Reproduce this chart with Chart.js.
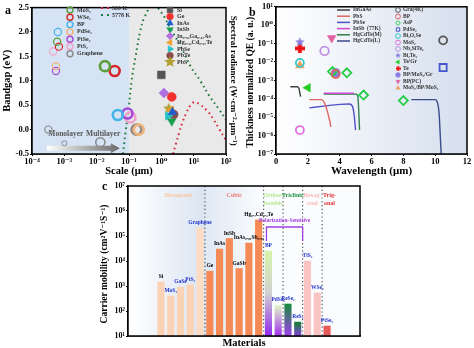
<!DOCTYPE html>
<html>
<head>
<meta charset="utf-8">
<script src="https://cdn.jsdelivr.net/npm/chart.js@4.4.1/dist/chart.umd.min.js"></script>
<style>
  body { margin: 0; background: #fff; width: 474px; height: 348px; overflow: hidden; position: relative; }
  canvas { position: absolute; }
</style>
</head>
<body>
<canvas id="chartA" width="240" height="178" style="left:0;top:0"></canvas>
<canvas id="chartB" width="234" height="178" style="left:240px;top:0"></canvas>
<canvas id="chartC" width="280" height="172" style="left:90px;top:176px"></canvas>
<script>
// ---------- PANEL A : bandgap vs scale ----------
const twoDNames = ['MoS₂', 'WSe₂', 'BP', 'PdSe₂', 'PtSe₂', 'PtS₂', 'Graphene'];
const monoScale = [6e-4, 6.8e-4, 6.3e-4, 5.5e-4, 5.5e-4, 4.5e-4, 3.2e-4];
const monoGap = [1.8, 1.7, 2.0, 1.3, 1.2, 1.6, 0.0];
const multiScale = [0.018, 0.036, 0.045, 0.2, 0.09, 0.11, 0.17];
const multiGap = [1.3, 1.2, 0.3, 0.0, 0.33, 0.25, 0.0];
const layerIconScale = [1e-3, 0.013];
const layerIconGap = [-0.28, -0.26];

const bulkNames = ['Si', 'Ge', 'InAs', 'InSb', 'In₀.₅₃Ga₀.₄₇As', 'Hg₀.₃₃Cd₀.₆₇Te', 'PbSe', 'PbTe', 'PbS'];
const bulkScale = [1.0, 2.1, 2.2, 2.1, 1.2, 2.0, 1.6, 2.4, 1.7];
const bulkGap = [1.12, 0.67, 0.36, 0.17, 0.75, 0.4, 0.28, 0.31, 0.43];

const sun300Scale = [2.3, 2.8, 3.5, 4.5, 6, 8, 10.5, 15, 25, 40, 63, 100];
const sun300Val = [-0.5, -0.3, -0.08, 0.15, 0.35, 0.5, 0.56, 0.52, 0.4, 0.22, 0.0, -0.22];
const sun5778Scale = [0.065, 0.08, 0.1, 0.12, 0.16, 0.22, 0.3, 0.55, 1, 2, 4, 8, 16, 30, 60, 100];
const sun5778Val = [-0.5, 0.0, 0.5, 1.0, 1.5, 2.0, 2.3, 2.55, 2.4, 2.05, 1.7, 1.3, 1.0, 0.7, 0.42, 0.2];

const scaleTicks = [1e-4, 1e-3, 1e-2, 1e-1, 1e0, 1e1, 1e2];

// ---------- PANEL B : QE vs wavelength ----------
const lineNames = ['InGaAs', 'PbS', 'PbSe', 'InSb  (77K)', 'HgCdTe(M)', 'HgCdTe(L)'];
const lineX = [
  [0.9, 1.35, 1.45, 1.5, 1.55],
  [2.1, 2.85, 3.05, 3.2, 3.35, 3.45],
  [2.1, 3.0, 4.0, 4.6, 4.8, 4.9, 5.0],
  [3.0, 4.9],
  [3.0, 5.05, 5.15, 5.2, 5.25],
  [8.5, 10.0, 10.15, 10.25, 10.32, 10.38]
];
const lineY = [
  [4.5e-4, 4.5e-4, 3.5e-4, 2e-4, 1.3e-4],
  [9e-5, 9e-5, 6e-5, 2.5e-5, 8e-6, 3e-6],
  [3.2e-5, 4e-5, 5e-5, 5.2e-5, 4e-5, 1.5e-5, 2e-6],
  [2e-4, 2e-4],
  [1.8e-4, 1.8e-4, 1.2e-4, 2e-5, 2e-6],
  [9e-5, 9e-5, 6e-5, 1.5e-5, 1e-6, 1e-7]
];

const qeNames = ['Gra(4K)', 'BP', 'AsP', 'PdSe₂', 'Bi₂O₂Se', 'MoS₂', 'Nb₂SiTe₄', 'Bi₂Te₃', 'Te/Gr', 'Te', 'BP/MoS₂/Gr', 'BP(PC)', 'MoS₂/BP/MoS₂'];
const qeX = [[10.5], [3.75], [3.55, 4.45, 5.5, 8.0], [10.5], [1.5], [1.5], [3.05], [1.5], [2.0], [1.5], [3.75], [3.5], [1.5]];
const qeY = [[0.15], [2.2e-3], [3e-3, 2.6e-3, 1.6e-4, 8e-5], [5e-3], [9e-3], [2e-6], [0.04], [0.12], [4e-4], [0.055], [2.6e-3], [0.2], [6.5e-3]];

const wlTicks = [0, 2, 4, 6, 8, 10, 12];
const qeTicks = [1e-7, 1e-6, 1e-5, 1e-4, 1e-3, 1e-2, 1e-1, 1e0, 1e1];

// ---------- PANEL C : carrier mobility ----------
const matNames = ['Si', 'MoS₂', 'GaSe', 'PtS₂', 'Graphene', 'Ge', 'InAs', 'InSb', 'GaSb', 'InAs₀.₉₁Sb₀.₀₉', 'Hg₀.₇Cd₀.₃Te', 'BP', 'PdSe₂', 'ReSe₂', 'ReS₂', 'TiS₂', 'WSe₂', 'PtSe₂'];
const mobility = [1450, 400, 900, 1100, 2.1e5, 3900, 3e4, 8e4, 5e3, 5.2e4, 4.4e5, 2.5e4, 170, 190, 36, 1e4, 530, 25];
const matGroup = [0, 0, 0, 0, 0, 1, 1, 1, 1, 1, 1, 2, 2, 3, 3, 4, 4, 5];
const groupNames = [['Hexagonal'], ['Cubic'], ['Orthor-', 'hombic'], ['Triclinic'], ['Hexag-', 'onal'], ['Trig-', 'onal']];
const mobTicks = [1e1, 1e2, 1e3, 1e4, 1e5, 1e6, 1e7];

// ---------- styles ----------
const FONT = '"Liberation Serif", "DejaVu Serif", serif';
Chart.defaults.font.family = FONT;
Chart.defaults.font.weight = 'bold';
Chart.defaults.color = '#000';

const twoDColors = ['#5a9e3a', '#d62828', '#43b4e8', '#f0b27a', '#a64ad6', '#f2a2cc', '#8a8a8a'];
const bulkColors = ['#555555', '#f2302e', '#1f5fd0', '#1aa050', '#b070e0', '#f0a030', '#20c4c8', '#8b4a4a', '#b0a030'];
const lineColors = ['#404040', '#e06666', '#5050c8', '#d048d0', '#2f7f4f', '#3a4a8a'];
const qeColors = ['#555555', '#e06060', '#22cc44', '#4455cc', '#30c8c8', '#e070e0', '#c090e0', '#8a7ee0', '#22cc22', '#ee1111', '#8a7ee0', '#e060a0', '#f0a060'];
const groupColors = ['#f8c7a0', '#f07878', '#b8e890', '#1a9040', '#f8bcbc', '#e03030'];
const matFill = [
  ['#fcd2b4'], ['#fcd2b4'], ['#fcd2b4'], ['#fcd2b4'], ['#fcdcc2'],
  ['#f58a55'], ['#f58a55'], ['#f58a55'], ['#f58a55'], ['#f58a55'], ['#f58a55'],
  ['#d6f5a8', '#d0d0d0', '#9028f0'], ['#e4f8c8', '#a030f0'],
  ['#178a3c', '#a040f0'], ['#17802f', '#8040e0'],
  ['#fbc4c4'], ['#fbc4c4'], ['#e85a5a']
];
const labelBlue = '#2233cc';
const matLabelColor = ['#000', labelBlue, labelBlue, labelBlue, labelBlue, '#000', '#000', '#000', '#000', '#000', '#000',
  labelBlue, labelBlue, labelBlue, labelBlue, labelBlue, labelBlue, labelBlue];

// filled star / plus markers
function starImage(color, r) {
  const c = document.createElement('canvas');
  c.width = c.height = 2 * r + 2;
  const g = c.getContext('2d');
  g.fillStyle = color;
  g.beginPath();
  for (let k = 0; k < 10; k++) {
    const rr = k % 2 ? r * 0.45 : r;
    const ang = -Math.PI / 2 + k * Math.PI / 5;
    g.lineTo(r + 1 + rr * Math.cos(ang), r + 1 + rr * Math.sin(ang));
  }
  g.closePath();
  g.fill();
  return c;
}
function plusImage(color, r) {
  const c = document.createElement('canvas');
  c.width = c.height = 2 * r;
  const g = c.getContext('2d');
  g.fillStyle = color;
  const w = r * 0.75;
  g.fillRect(r - w / 2, 0, w, 2 * r);
  g.fillRect(0, r - w / 2, 2 * r, w);
  return c;
}

const bulkStyle = [
  { style: 'rect', rot: 0, r: 5.5 },
  { style: 'circle', rot: 0, r: 4.5 },
  { style: 'triangle', rot: 0, r: 5 },
  { style: 'triangle', rot: 180, r: 5 },
  { style: 'rectRot', rot: 0, r: 5 },
  { style: 'triangle', rot: -90, r: 5 },
  { style: 'triangle', rot: 90, r: 5 },
  { style: 'circle', rot: 0, r: 4.5 },
  { style: starImage('#b0a030', 6), rot: 0, r: 6 }
];
const qeStyle = [
  { style: 'circle', r: 4, open: true },
  { style: 'circle', r: 4, open: true },
  { style: 'rectRot', r: 4.5, open: true },
  { style: 'rect', r: 5, open: true },
  { style: 'circle', r: 4, open: true },
  { style: 'circle', r: 4, open: true },
  { style: 'circle', r: 4.3, open: true },
  { style: starImage('#8a7ee0', 5), r: 5 },
  { style: 'triangle', r: 5, rot: -90 },
  { style: plusImage('#ee1111', 5), r: 5 },
  { style: 'circle', r: 4.5 },
  { style: 'triangle', r: 5, rot: 180 },
  { style: 'triangle', r: 5 }
];

// ---------- helpers ----------
const SUP = { '-': '⁻', '0': '⁰', '1': '¹', '2': '²', '3': '³', '4': '⁴', '5': '⁵', '6': '⁶', '7': '⁷', '8': '⁸', '9': '⁹' };
const pow10 = (v) => '10' + String(Math.round(Math.log10(v))).replace(/./g, (c) => SUP[c]);
const toTicks = (list) => list.map((v) => ({ value: v }));

function text(ctx, str, x, y, size, opts = {}) {
  ctx.save();
  ctx.font = `bold ${size}px ${FONT}`;
  ctx.fillStyle = opts.color || '#000';
  ctx.textAlign = opts.align || 'left';
  ctx.textBaseline = opts.base || 'middle';
  ctx.translate(x, y);
  if (opts.rot) ctx.rotate(opts.rot);
  ctx.fillText(str, 0, 0);
  ctx.restore();
}

function marker(ctx, style, x, y, color, open, bw) {
  ctx.save();
  ctx.strokeStyle = color;
  ctx.fillStyle = open ? 'rgba(0,0,0,0)' : color;
  ctx.lineWidth = bw || 1;
  Chart.helpers.drawPoint(ctx, { pointStyle: style.style, radius: style.r, rotation: style.rot || 0, borderWidth: bw || 1 }, x, y);
  ctx.restore();
}

const frame = {
  id: 'frame',
  afterDatasetsDraw(chart) {
    const { ctx, chartArea: a } = chart;
    ctx.save();
    ctx.strokeStyle = '#000';
    ctx.lineWidth = 1.5;
    ctx.strokeRect(a.left, a.top, a.right - a.left, a.bottom - a.top);
    ctx.restore();
  }
};

const tickFont = { size: 8.5, weight: 'bold' };
const axisGrid = { display: true, drawOnChartArea: false, drawTicks: true, tickLength: 2, color: '#000' };
const axisBorder = { display: true, color: '#000', width: 1.5 };

// ---------- PANEL A ----------
const datasetsA = [];
twoDNames.forEach((name, i) => {
  datasetsA.push({
    label: name,
    data: [{ x: monoScale[i], y: monoGap[i] }, { x: multiScale[i], y: multiGap[i] }],
    pointStyle: 'circle',
    pointRadius: [3.6, 5],
    pointBorderWidth: [1.2, 2.6],
    borderColor: twoDColors[i],
    backgroundColor: 'rgba(0,0,0,0)'
  });
});
datasetsA.push({
  label: 'layers',
  data: layerIconScale.map((x, i) => ({ x, y: layerIconGap[i] })),
  pointRadius: [2.5, 4.6],
  pointBorderWidth: [1, 1.6],
  borderColor: '#8a8a8a',
  backgroundColor: 'rgba(0,0,0,0)'
});
bulkNames.forEach((name, i) => {
  datasetsA.push({
    label: name,
    data: [{ x: bulkScale[i], y: bulkGap[i] }],
    pointStyle: bulkStyle[i].style,
    pointRotation: bulkStyle[i].rot,
    pointRadius: bulkStyle[i].r,
    pointBorderWidth: 0.5,
    backgroundColor: bulkColors[i],
    borderColor: bulkColors[i]
  });
});
datasetsA.push({
  label: '300 K',
  data: sun300Scale.map((x, i) => ({ x, y: sun300Val[i] })),
  showLine: true, pointRadius: 0, borderColor: '#d42a3c', borderWidth: 2,
  borderDash: [1.6, 3.4], tension: 0.4
});
datasetsA.push({
  label: '5778 K',
  data: sun5778Scale.map((x, i) => ({ x, y: sun5778Val[i] })),
  showLine: true, pointRadius: 0, borderColor: '#1f7a3a', borderWidth: 2,
  borderDash: [1.6, 3.4], tension: 0.4
});

const panelA = {
  id: 'panelA',
  beforeDatasetsDraw(chart) {
    const { ctx, chartArea: a, scales: { x, y } } = chart;
    const split = x.getPixelForValue(0.1);
    ctx.save();
    ctx.fillStyle = '#d6e3f4';
    ctx.fillRect(a.left, a.top, split - a.left, a.bottom - a.top);
    ctx.fillStyle = '#e9e9ea';
    ctx.fillRect(split, a.top, a.right - split, a.bottom - a.top);
    // monolayer -> multilayer arrow
    const x0 = x.getPixelForValue(2.9e-4), x1 = x.getPixelForValue(0.052), yy = y.getPixelForValue(-0.38);
    const g = ctx.createLinearGradient(x0, 0, x1, 0);
    g.addColorStop(0, '#ffffff');
    g.addColorStop(1, '#6a6a6a');
    ctx.fillStyle = g;
    ctx.beginPath();
    ctx.moveTo(x0, yy - 2.5);
    ctx.lineTo(x1 - 9, yy - 2.5);
    ctx.lineTo(x1 - 9, yy - 5);
    ctx.lineTo(x1, yy);
    ctx.lineTo(x1 - 9, yy + 5);
    ctx.lineTo(x1 - 9, yy + 2.5);
    ctx.lineTo(x0, yy + 2.5);
    ctx.closePath();
    ctx.fill();
    ctx.restore();
    text(ctx, 'Monolayer', x.getPixelForValue(3.2e-4), y.getPixelForValue(-0.1), 7.5, { color: '#555' });
    text(ctx, 'Multilayer', x.getPixelForValue(4.7e-3), y.getPixelForValue(-0.1), 7.5, { color: '#555' });
  },
  afterDraw(chart) {
    const { ctx, chartArea: a } = chart;
    // 2D legend
    twoDNames.forEach((n, i) => {
      const yy = 10 + i * 7.3;
      marker(ctx, { style: 'circle', r: 3 }, 70, yy, twoDColors[i], true, 1.4);
      text(ctx, n, 77, yy, 6, { color: '#333' });
    });
    // blackbody legend
    [['300 K', '#d42a3c'], ['5778 K', '#1f7a3a']].forEach(([n, c], i) => {
      const yy = 8 + i * 7;
      ctx.save();
      ctx.fillStyle = c;
      ctx.fillRect(101, yy - 1, 2, 2);
      ctx.fillRect(107, yy - 1, 2, 2);
      ctx.restore();
      text(ctx, n, 112, yy, 6, { color: '#333' });
    });
    // bulk legend
    bulkNames.forEach((n, i) => {
      const yy = 10 + i * 6.5;
      const st = Object.assign({}, bulkStyle[i], { r: Math.min(bulkStyle[i].r * 0.75, 4) });
      marker(ctx, st, 170, yy, bulkColors[i], false, 0.5);
      text(ctx, n, 177, yy, 6, { color: '#333' });
    });
    text(ctx, 'a', 5, 11, 12);
    text(ctx, 'Bandgap (eV)', 7, (a.top + a.bottom) / 2, 10.5, { align: 'center', rot: -Math.PI / 2 });
    text(ctx, 'Scale (μm)', (a.left + a.right) / 2, 171, 10.5, { align: 'center' });
    text(ctx, 'Spectral radiance (W·cm⁻²·μm⁻¹)', 233, (a.top + a.bottom) / 2, 9, { align: 'center', rot: Math.PI / 2 });
  }
};

new Chart(document.getElementById('chartA'), {
  type: 'scatter',
  data: { datasets: datasetsA },
  options: {
    responsive: false,
    animation: false,
    layout: { padding: { top: 5, right: 14, left: 0, bottom: 0 } },
    plugins: { legend: { display: false }, tooltip: { enabled: false } },
    scales: {
      x: {
        type: 'logarithmic', min: 1e-4, max: 1e2,
        afterFit: (s) => { s.height = 24; },
        afterBuildTicks: (s) => { s.ticks = toTicks(scaleTicks); },
        ticks: { callback: pow10, font: tickFont, color: '#000', padding: 1, maxRotation: 0, autoSkip: false },
        grid: axisGrid, border: axisBorder
      },
      y: {
        min: -0.5, max: 2.5,
        afterFit: (s) => { s.width = 32; },
        ticks: { stepSize: 0.5, callback: (v) => v.toFixed(1), font: tickFont, color: '#000', padding: 1 },
        grid: axisGrid, border: axisBorder
      }
    }
  },
  plugins: [panelA, frame]
});

// ---------- PANEL B ----------
const datasetsB = [];
qeNames.forEach((name, i) => {
  const st = qeStyle[i];
  datasetsB.push({
    label: name,
    data: qeX[i].map((x, k) => ({ x, y: qeY[i][k] })),
    pointStyle: st.style,
    pointRotation: st.rot || 0,
    pointRadius: st.r,
    pointBorderWidth: st.open ? 1.8 : 0.5,
    borderColor: qeColors[i],
    backgroundColor: st.open ? 'rgba(0,0,0,0)' : qeColors[i]
  });
});
lineNames.forEach((name, i) => {
  datasetsB.push({
    label: name,
    data: lineX[i].map((x, k) => ({ x, y: lineY[i][k] })),
    showLine: true, pointRadius: 0, borderWidth: 1.4,
    borderColor: lineColors[i], cubicInterpolationMode: 'monotone'
  });
});

const panelB = {
  id: 'panelB',
  beforeDatasetsDraw(chart) {
    const { ctx, chartArea: a } = chart;
    const g = ctx.createLinearGradient(a.left, 0, a.right, 0);
    g.addColorStop(0, '#ffffff');
    g.addColorStop(1, '#d5dfee');
    ctx.save();
    ctx.fillStyle = g;
    ctx.fillRect(a.left, a.top, a.right - a.left, a.bottom - a.top);
    ctx.restore();
  },
  afterDraw(chart) {
    const { ctx, chartArea: a } = chart;
    lineNames.forEach((n, i) => {
      const yy = 10 + i * 6.2;
      ctx.save();
      ctx.strokeStyle = lineColors[i];
      ctx.lineWidth = 1.5;
      ctx.beginPath();
      ctx.moveTo(97, yy);
      ctx.lineTo(110, yy);
      ctx.stroke();
      ctx.restore();
      text(ctx, n, 113, yy, 5.5, { color: '#333' });
    });
    qeNames.forEach((n, i) => {
      const yy = 10 + i * 6.5;
      const st = qeStyle[i];
      let small;
      if (typeof st.style === 'string') small = Object.assign({}, st, { r: 2.4 });
      else small = Object.assign({}, st, { style: st.style === qeStyle[7].style ? starImage(qeColors[i], 3) : plusImage(qeColors[i], 2.6) });
      marker(ctx, small, 158, yy, qeColors[i], st.open, st.open ? 1 : 0.5);
      text(ctx, n, 163, yy, 5.5, { color: '#333' });
    });
    text(ctx, 'b', 9, 13, 12);
    text(ctx, 'Thickness normalized QE (a. u.)', 11, (a.top + a.bottom) / 2 + 2, 9.5, { align: 'center', rot: -Math.PI / 2 });
    text(ctx, 'Wavelength (μm)', (a.left + a.right) / 2, 171, 11, { align: 'center' });
  }
};

new Chart(document.getElementById('chartB'), {
  type: 'scatter',
  data: { datasets: datasetsB },
  options: {
    responsive: false,
    animation: false,
    layout: { padding: { top: 5, right: 7, left: 0, bottom: 0 } },
    plugins: { legend: { display: false }, tooltip: { enabled: false } },
    scales: {
      x: {
        min: 0, max: 12,
        afterFit: (s) => { s.height = 24; },
        afterBuildTicks: (s) => { s.ticks = toTicks(wlTicks); },
        ticks: { font: tickFont, color: '#000', padding: 1, maxRotation: 0, autoSkip: false },
        grid: axisGrid, border: axisBorder
      },
      y: {
        type: 'logarithmic', min: 1e-7, max: 1e1,
        afterFit: (s) => { s.width = 36; },
        afterBuildTicks: (s) => { s.ticks = toTicks(qeTicks); },
        ticks: { callback: pow10, font: tickFont, color: '#000', padding: 1, autoSkip: false },
        grid: axisGrid, border: axisBorder
      }
    }
  },
  plugins: [panelB, frame]
});

// ---------- PANEL C ----------
const groupBounds = [0];
matGroup.forEach((g, i) => { if (i > 0 && g !== matGroup[i - 1]) groupBounds.push(i + 0.5); });
groupBounds.push(matNames.length + 1);

const barFill = (context) => {
  const i = context.dataIndex;
  const stops = matFill[i];
  if (!stops) return '#ccc';
  if (stops.length === 1) return stops[0];
  const chart = context.chart;
  const a = chart.chartArea;
  if (!a || !chart.scales.y) return stops[0];
  const top = chart.scales.y.getPixelForValue(mobility[i]);
  const g = chart.ctx.createLinearGradient(0, top, 0, a.bottom);
  stops.forEach((c, k) => g.addColorStop(k / (stops.length - 1), c));
  return g;
};

const panelC = {
  id: 'panelC',
  beforeDatasetsDraw(chart) {
    const { ctx, chartArea: a, scales: { x } } = chart;
    ctx.save();
    ctx.fillStyle = '#fbfcfe';
    ctx.fillRect(a.left, a.top, a.right - a.left, a.bottom - a.top);
    const b1 = x.getPixelForValue(groupBounds[1]), b2 = x.getPixelForValue(groupBounds[2]);
    let g = ctx.createLinearGradient(a.left, 0, b1, 0);
    g.addColorStop(0, '#ffffff');
    g.addColorStop(1, '#dae4f2');
    ctx.fillStyle = g;
    ctx.fillRect(a.left, a.top, b1 - a.left, a.bottom - a.top);
    g = ctx.createLinearGradient(b1, 0, b2, 0);
    g.addColorStop(0, '#dfe8f4');
    g.addColorStop(1, '#fbfcfe');
    ctx.fillStyle = g;
    ctx.fillRect(b1, a.top, b2 - b1, a.bottom - a.top);
    // group separators
    ctx.strokeStyle = '#555';
    ctx.lineWidth = 1.2;
    ctx.setLineDash([1.2, 2.6]);
    groupBounds.slice(1, -1).forEach((v) => {
      const px = x.getPixelForValue(v);
      ctx.beginPath();
      ctx.moveTo(px, a.top);
      ctx.lineTo(px, a.bottom);
      ctx.stroke();
    });
    ctx.restore();
    groupNames.forEach((lines, gi) => {
      const cx = x.getPixelForValue((groupBounds[gi] + groupBounds[gi + 1]) / 2);
      lines.forEach((ln, k) => text(ctx, ln, cx, a.top + 9 + k * 8, 6, { align: 'center', color: groupColors[gi] }));
    });
  },
  afterDatasetsDraw(chart) {
    const { ctx, chartArea: a, scales: { x } } = chart;
    const meta = chart.getDatasetMeta(0);
    meta.data.forEach((bar, i) => {
      text(ctx, matNames[i], bar.x, bar.y - 2.5, 5.5, { align: 'center', base: 'bottom', color: matLabelColor[i] });
    });
    // polarization-sensitive bracket
    const l = x.getPixelForValue(11.8), r = x.getPixelForValue(15.5);
    ctx.save();
    ctx.strokeStyle = '#a040e0';
    ctx.lineWidth = 1.3;
    ctx.beginPath();
    ctx.moveTo(l, a.top + 55);
    ctx.lineTo(l, a.top + 41);
    ctx.lineTo(r, a.top + 41);
    ctx.lineTo(r, a.top + 55);
    ctx.stroke();
    ctx.restore();
    text(ctx, 'Polarization-Sensitive', (l + r) / 2, a.top + 35, 5.5, { align: 'center', color: '#a040e0' });
  },
  afterDraw(chart) {
    const { ctx, chartArea: a } = chart;
    text(ctx, 'c', 12, 11, 12);
    text(ctx, 'Carrier mobility (cm²V⁻¹S⁻¹)', 15, (a.top + a.bottom) / 2 + 3, 9.5, { align: 'center', rot: -Math.PI / 2 });
    text(ctx, 'Materials', (a.left + a.right) / 2, 167, 10.5, { align: 'center' });
  }
};

new Chart(document.getElementById('chartC'), {
  type: 'bar',
  data: {
    datasets: [{
      data: matNames.map((n, i) => ({ x: i + 1, y: mobility[i] })),
      backgroundColor: barFill,
      borderWidth: 0,
      barThickness: 6.5
    }]
  },
  options: {
    responsive: false,
    animation: false,
    layout: { padding: { top: 10, right: 10, left: 0, bottom: 0 } },
    plugins: { legend: { display: false }, tooltip: { enabled: false } },
    scales: {
      x: {
        type: 'linear', min: 0, max: matNames.length + 1,
        afterFit: (s) => { s.height = 12; },
        ticks: { display: false },
        grid: { display: false }, border: axisBorder
      },
      y: {
        type: 'logarithmic', min: 1e1, max: 1e7,
        afterFit: (s) => { s.width = 38; },
        afterBuildTicks: (s) => { s.ticks = toTicks(mobTicks); },
        ticks: { callback: pow10, font: { size: 8, weight: 'bold' }, color: '#000', padding: 1, autoSkip: false },
        grid: axisGrid, border: axisBorder
      }
    }
  },
  plugins: [panelC, frame]
});
</script>
</body>
</html>
